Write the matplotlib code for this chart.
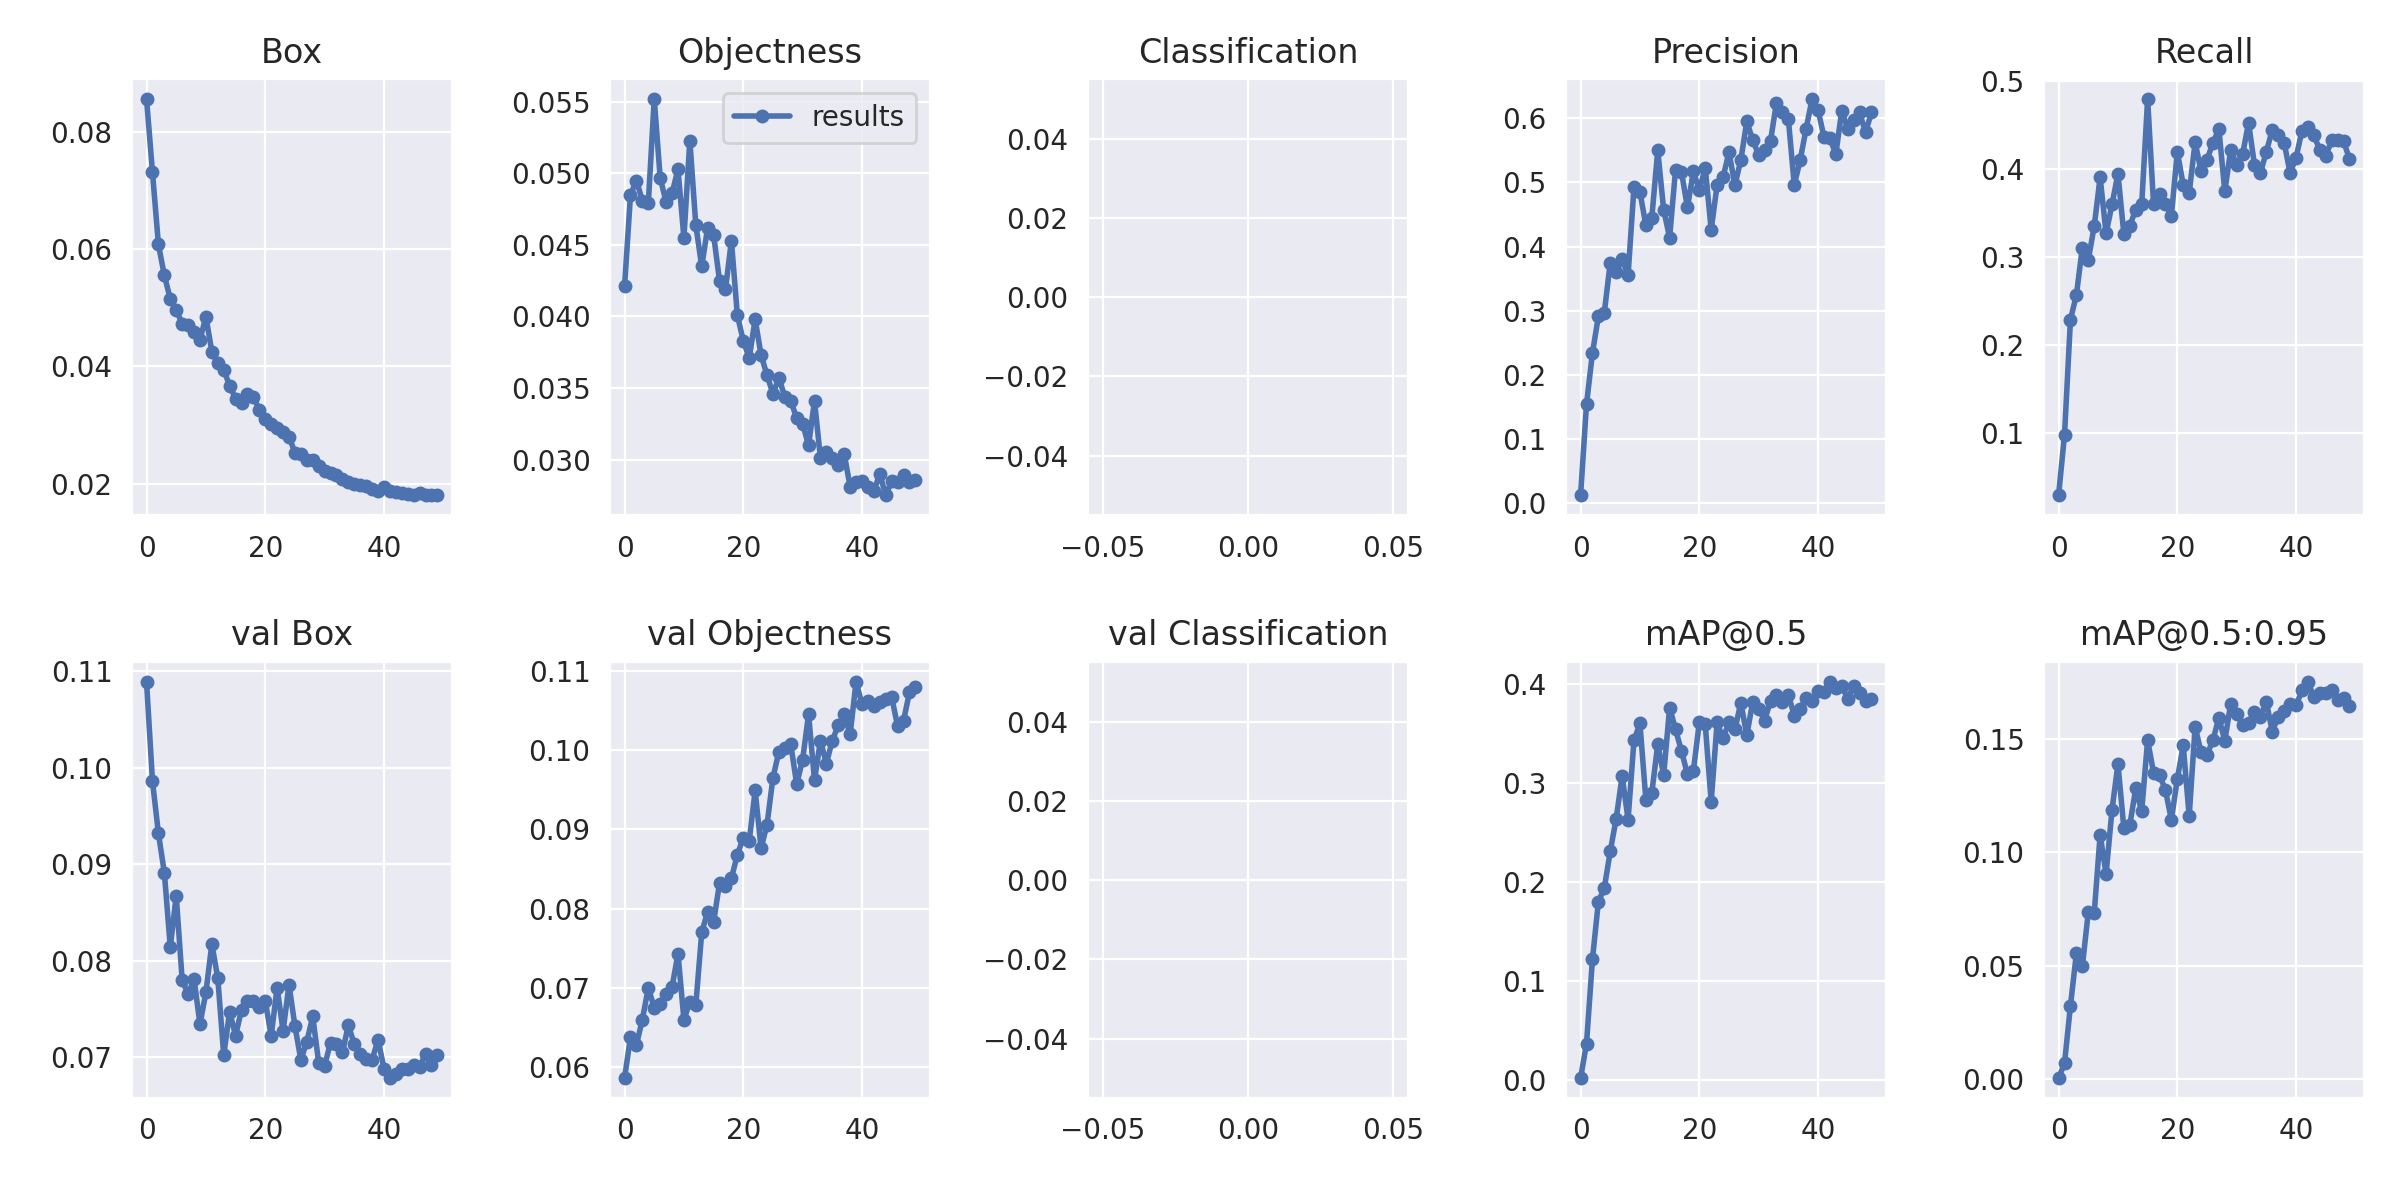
import numpy as np
import matplotlib.pyplot as plt
import seaborn as sns

# epochs 0..49
epochs = list(range(50))

box = [0.0856, 0.0731, 0.0608, 0.0555, 0.0515, 0.0496, 0.0473, 0.0471, 0.0458, 0.0445,
       0.0485, 0.0425, 0.0405, 0.0394, 0.0367, 0.0345, 0.0337, 0.0353, 0.0348, 0.0326,
       0.0311, 0.0301, 0.0294, 0.0288, 0.0280, 0.0253, 0.0251, 0.0241, 0.0241, 0.0230,
       0.0222, 0.0218, 0.0214, 0.0208, 0.0203, 0.0200, 0.0197, 0.0196, 0.0191, 0.0187,
       0.0194, 0.0188, 0.0186, 0.0184, 0.0182, 0.0181, 0.0184, 0.0180, 0.0180, 0.0180]

objectness = [0.0421, 0.0485, 0.0495, 0.0481, 0.0479, 0.0552, 0.0497, 0.0480, 0.0486, 0.0503,
              0.0455, 0.0523, 0.0464, 0.0435, 0.0462, 0.0457, 0.0425, 0.0419, 0.0453, 0.0401,
              0.0383, 0.0371, 0.0398, 0.0373, 0.0359, 0.0346, 0.0357, 0.0344, 0.0341, 0.0329,
              0.0325, 0.0310, 0.0341, 0.0301, 0.0305, 0.0301, 0.0296, 0.0304, 0.0281, 0.0284,
              0.0285, 0.0281, 0.0278, 0.0290, 0.0275, 0.0285, 0.0284, 0.0289, 0.0284, 0.0286]

# classification loss is zero for a single-class model -> nothing drawn
classification = [np.nan] * 50
val_classification = [np.nan] * 50

precision = [0.012, 0.154, 0.234, 0.291, 0.297, 0.375, 0.361, 0.380, 0.355, 0.493,
             0.485, 0.433, 0.445, 0.550, 0.457, 0.414, 0.520, 0.516, 0.461, 0.517,
             0.488, 0.523, 0.426, 0.496, 0.508, 0.547, 0.496, 0.535, 0.595, 0.566,
             0.543, 0.550, 0.565, 0.624, 0.610, 0.599, 0.496, 0.535, 0.584, 0.630,
             0.613, 0.571, 0.569, 0.544, 0.612, 0.584, 0.598, 0.609, 0.578, 0.609]

recall = [0.029, 0.098, 0.229, 0.257, 0.311, 0.297, 0.335, 0.391, 0.327, 0.360,
          0.395, 0.326, 0.336, 0.354, 0.360, 0.480, 0.360, 0.372, 0.360, 0.347,
          0.420, 0.382, 0.373, 0.431, 0.398, 0.411, 0.430, 0.446, 0.375, 0.422,
          0.405, 0.417, 0.453, 0.405, 0.396, 0.420, 0.445, 0.439, 0.430, 0.396,
          0.413, 0.444, 0.448, 0.439, 0.422, 0.415, 0.433, 0.433, 0.432, 0.412]

val_box = [0.1089, 0.0986, 0.0932, 0.0891, 0.0814, 0.0867, 0.0780, 0.0765, 0.0781, 0.0734,
           0.0767, 0.0817, 0.0782, 0.0702, 0.0747, 0.0722, 0.0749, 0.0758, 0.0758, 0.0752,
           0.0758, 0.0722, 0.0772, 0.0727, 0.0775, 0.0732, 0.0697, 0.0716, 0.0742, 0.0694,
           0.0691, 0.0715, 0.0713, 0.0705, 0.0733, 0.0713, 0.0703, 0.0698, 0.0697, 0.0718,
           0.0688, 0.0678, 0.0682, 0.0688, 0.0688, 0.0692, 0.0690, 0.0703, 0.0692, 0.0702]

val_objectness = [0.0586, 0.0638, 0.0628, 0.0660, 0.0700, 0.0675, 0.0680, 0.0692, 0.0701, 0.0743,
                  0.0660, 0.0682, 0.0678, 0.0770, 0.0796, 0.0783, 0.0832, 0.0828, 0.0838, 0.0868,
                  0.0889, 0.0885, 0.0949, 0.0876, 0.0906, 0.0965, 0.0998, 0.1002, 0.1007, 0.0957,
                  0.0988, 0.1045, 0.0962, 0.1012, 0.0983, 0.1012, 0.1031, 0.1045, 0.1020, 0.1086,
                  0.1058, 0.1062, 0.1056, 0.1061, 0.1064, 0.1067, 0.1030, 0.1037, 0.1073, 0.1080]

map50 = [0.002, 0.037, 0.122, 0.180, 0.194, 0.231, 0.264, 0.307, 0.263, 0.343,
         0.360, 0.283, 0.290, 0.339, 0.308, 0.376, 0.354, 0.332, 0.309, 0.312,
         0.361, 0.359, 0.281, 0.361, 0.345, 0.361, 0.354, 0.381, 0.348, 0.382,
         0.375, 0.363, 0.383, 0.389, 0.382, 0.389, 0.368, 0.375, 0.386, 0.383,
         0.393, 0.392, 0.402, 0.396, 0.398, 0.385, 0.398, 0.391, 0.383, 0.385]

map50_95 = [0.0005, 0.0071, 0.0325, 0.0555, 0.0498, 0.0736, 0.0731, 0.1078, 0.0905, 0.1188,
            0.1390, 0.1106, 0.1122, 0.1282, 0.1183, 0.1495, 0.1352, 0.1341, 0.1275, 0.1144,
            0.1324, 0.1472, 0.1160, 0.1554, 0.1443, 0.1431, 0.1495, 0.1594, 0.1492, 0.1656,
            0.1610, 0.1561, 0.1571, 0.1618, 0.1599, 0.1664, 0.1533, 0.1599, 0.1623, 0.1653,
            0.1648, 0.1714, 0.1752, 0.1686, 0.1701, 0.1701, 0.1714, 0.1673, 0.1681, 0.1645]

titles = ['Box', 'Objectness', 'Classification', 'Precision', 'Recall',
          'val Box', 'val Objectness', 'val Classification', 'mAP@0.5', 'mAP@0.5:0.95']
series = [box, objectness, classification, precision, recall,
          val_box, val_objectness, val_classification, map50, map50_95]

sns.set_style('darkgrid')
sns.set_palette('deep')
plt.rcParams['font.family'] = ['DejaVu Sans']

fig, ax = plt.subplots(2, 5, figsize=(12, 6), dpi=200)
fig.subplots_adjust(left=0.055, right=0.985, top=0.934, bottom=0.085,
                    wspace=0.494, hspace=0.337)
ax = ax.ravel()

for i, (title, y) in enumerate(zip(titles, series)):
    ax[i].plot(epochs, y, marker='.', linewidth=2, markersize=8, label='results')
    ax[i].set_title(title)
    if 'Classification' in title:
        ax[i].set_xlim(-0.055, 0.055)
        ax[i].set_ylim(-0.055, 0.055)

ax[1].legend()
fig.savefig('out.png', dpi=200)
